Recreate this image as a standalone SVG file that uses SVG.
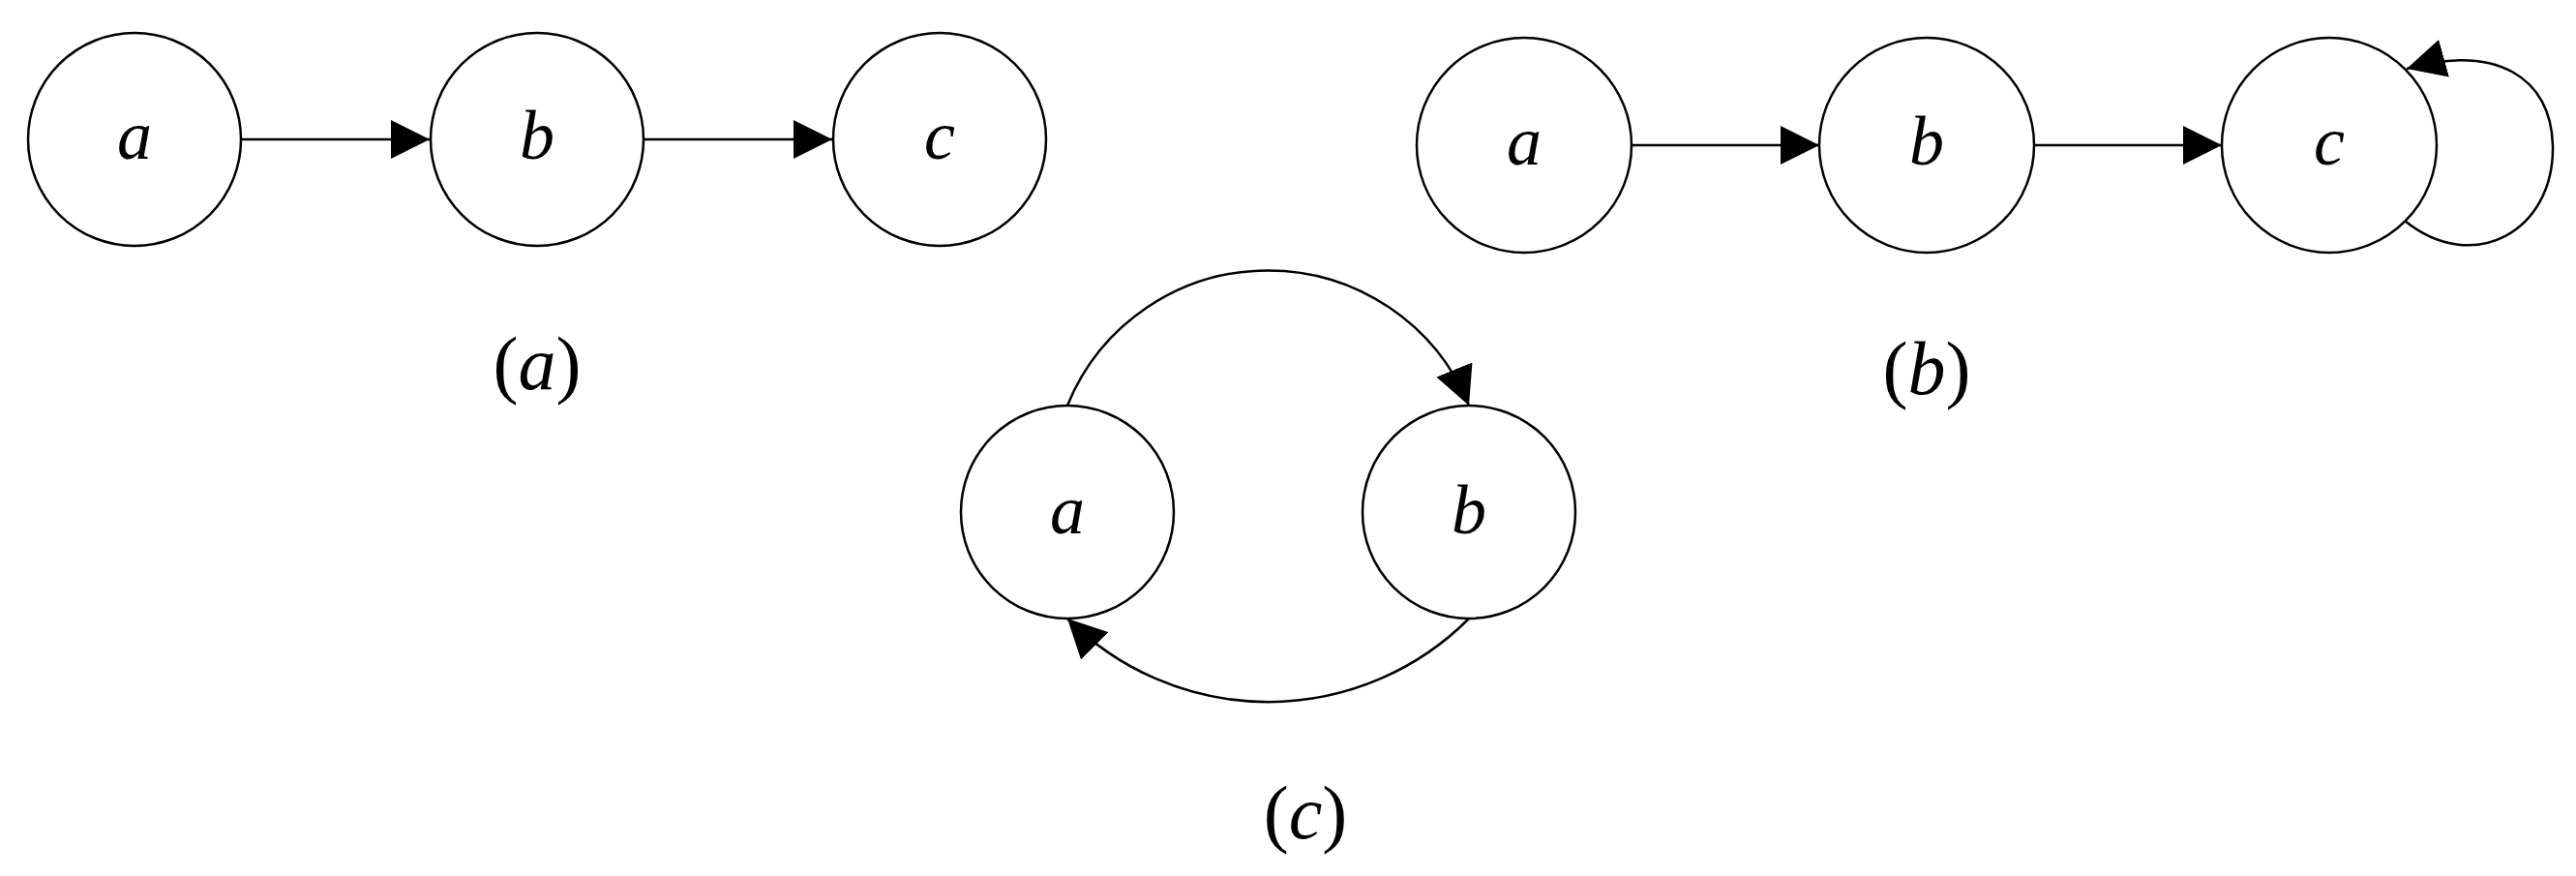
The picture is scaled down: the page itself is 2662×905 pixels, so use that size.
<svg xmlns="http://www.w3.org/2000/svg" width="2662" height="905" viewBox="0 0 2662 905">
<style>
.n{fill:#fff;stroke:#000;stroke-width:2.5}
.e{fill:none;stroke:#000;stroke-width:2.5}
text{font-family:"Liberation Serif","Times New Roman",serif;font-size:72px;text-anchor:middle}
.i{font-style:italic}
.cap{font-size:78px}
</style>
<defs>
<marker id="ar" markerUnits="userSpaceOnUse" markerWidth="40" markerHeight="40" viewBox="0 0 36 36" refX="36" refY="18" orient="auto">
<path d="M0 0L36 18L0 36Z" fill="#000"/>
</marker>
</defs>
<rect width="2662" height="905" fill="#fff"/>
<g id="connectors">
<line class="e" x1="249" y1="144" x2="444" y2="144" marker-end="url(#ar)"/>
<line class="e" x1="665" y1="144" x2="860" y2="144" marker-end="url(#ar)"/>
<line class="e" x1="1686" y1="150" x2="1880" y2="150" marker-end="url(#ar)"/>
<line class="e" x1="2102" y1="150" x2="2296" y2="150" marker-end="url(#ar)"/>
<path class="e" d="M2485 228C2555 285 2640 240 2638 150C2636 80 2580 45 2487 71" marker-end="url(#ar)"/>
<path class="e" d="M1103 419A224 224 0 0 1 1518 419" marker-end="url(#ar)"/>
<path class="e" d="M1518 639A293 293 0 0 1 1103 639" marker-end="url(#ar)"/>
</g>
<g id="a1"><circle class="n" cx="139" cy="144" r="110"/><text class="i" x="139" y="164">a</text></g>
<g id="b1"><circle class="n" cx="555" cy="144" r="110"/><text class="i" x="555" y="164">b</text></g>
<g id="c1"><circle class="n" cx="971" cy="144" r="110"/><text class="i" x="971" y="164">c</text></g>
<g id="a2"><circle class="n" cx="1575" cy="150" r="111"/><text class="i" x="1575" y="170">a</text></g>
<g id="b2"><circle class="n" cx="1991" cy="150" r="111"/><text class="i" x="1991" y="170">b</text></g>
<g id="c2"><circle class="n" cx="2407" cy="150" r="111"/><text class="i" x="2407" y="170">c</text></g>
<g id="a3"><circle class="n" cx="1103" cy="529" r="110"/><text class="i" x="1103" y="551">a</text></g>
<g id="b3"><circle class="n" cx="1518" cy="529" r="110"/><text class="i" x="1518" y="551">b</text></g>
<text class="cap" x="555" y="402">(<tspan class="i">a</tspan>)</text>
<text class="cap" x="1991" y="407">(<tspan class="i">b</tspan>)</text>
<text class="cap" x="1349" y="866">(<tspan class="i">c</tspan>)</text>
</svg>
